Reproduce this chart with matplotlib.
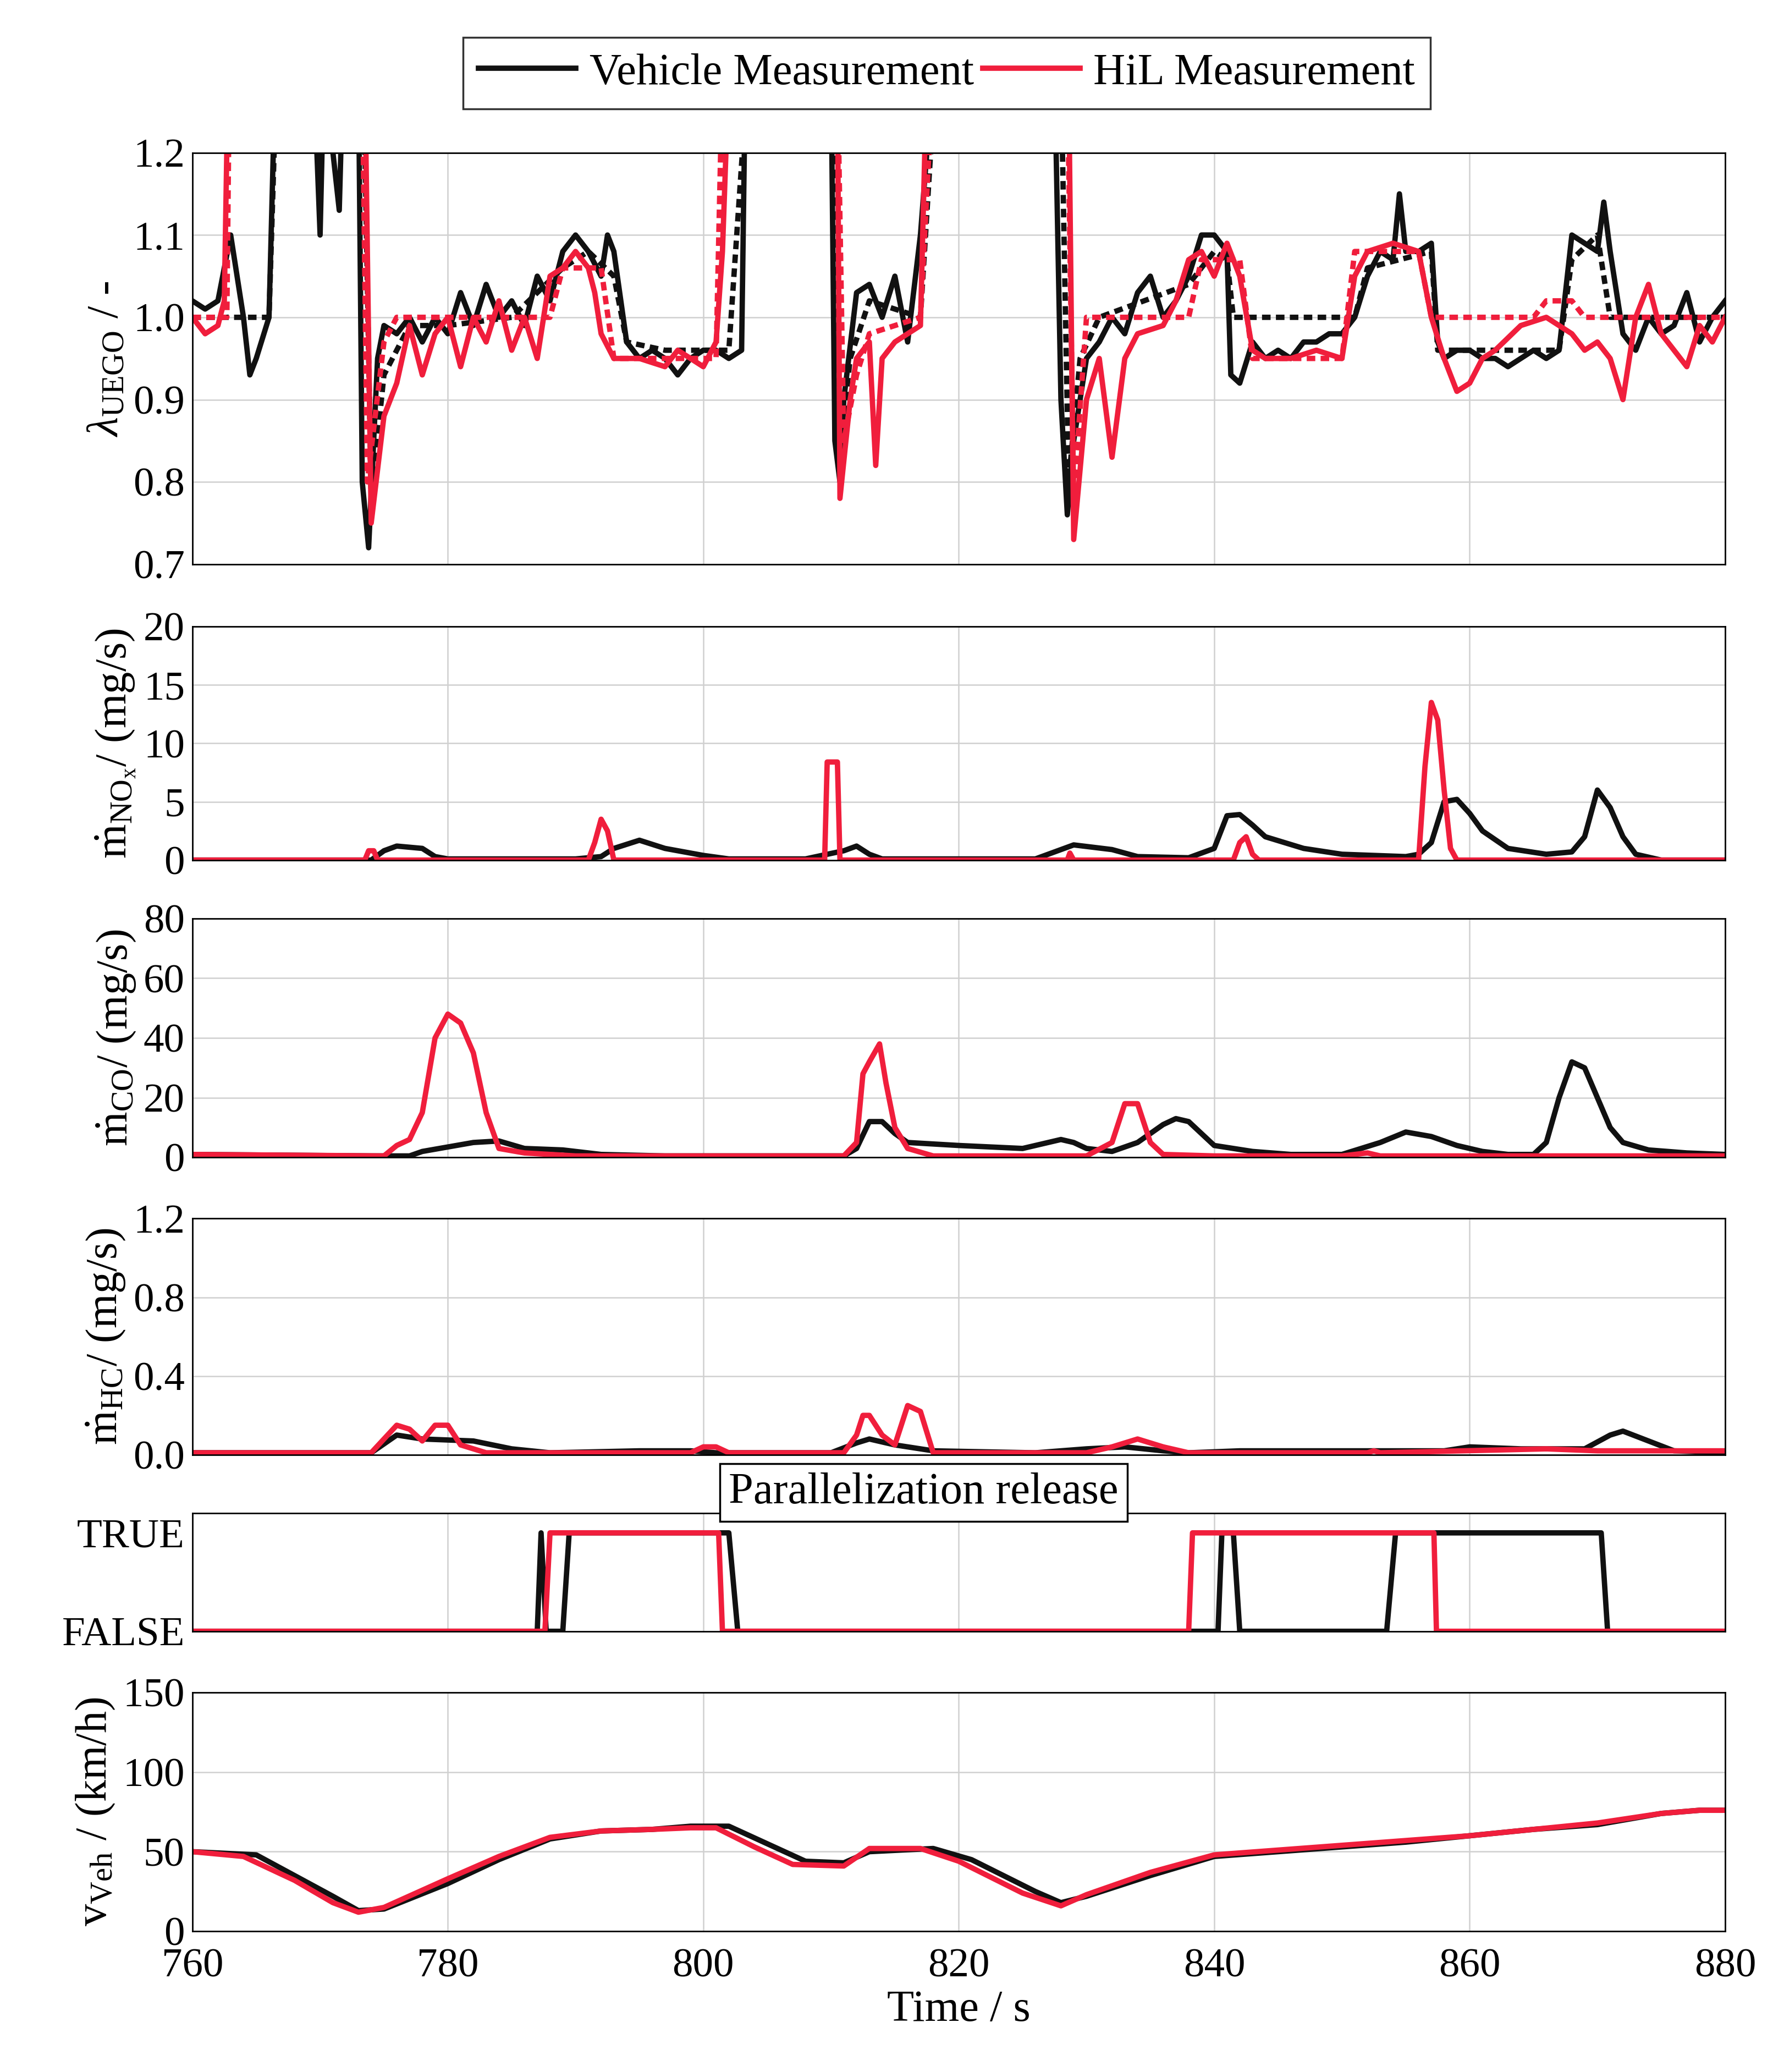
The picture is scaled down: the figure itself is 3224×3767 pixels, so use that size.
import numpy as np
import matplotlib
matplotlib.use("Agg")
import matplotlib.pyplot as plt
from matplotlib.lines import Line2D

plt.rcParams['font.family'] = ['Liberation Serif', 'DejaVu Serif']
plt.rcParams['mathtext.fontset'] = 'custom'
plt.rcParams['mathtext.rm'] = 'Liberation Serif'
plt.rcParams['mathtext.it'] = 'Liberation Serif:italic'

BLACK = '#111111'
RED = '#f01e3c'

# lambda
lam_veh_t = [760,761,762,763,764,764.5,765,766,766.5,769,769.5,770,770.3,771.5,771.8,773,773.3,773.8,774.5,775,776,777,778,779,780,781,782,783,784,785,786,787,788,789,790,791,792,792.5,793,794,795,796,797,798,799,800,801,802,803,803.3,810,810.3,810.7,811,812,813,814,815,816,817,818,827.5,828,828.5,829,830,831,832,833,834,835,836,837,838,839,840,841,841.3,842,843,844,845,846,847,848,849,850,851,852,853,854,854.5,855,856,857,857.5,858,859,860,861,862,863,864,865,866,867,868,869,870,870.5,871,872,873,874,875,876,877,878,879,880]
lam_veh = [1.02,1.01,1.02,1.1,1.0,0.93,0.95,1.0,1.3,1.3,1.3,1.1,1.3,1.13,1.3,1.3,0.8,0.72,0.95,0.99,0.98,1.0,0.97,1.0,0.98,1.03,0.99,1.04,1.0,1.02,0.99,1.05,1.02,1.08,1.1,1.08,1.05,1.1,1.08,0.97,0.95,0.96,0.95,0.93,0.95,0.96,0.96,0.95,0.96,1.3,1.3,0.85,0.8,0.9,1.03,1.04,1.0,1.05,0.97,1.1,1.3,1.3,0.9,0.76,0.85,0.95,0.97,1.0,0.98,1.03,1.05,1.0,1.02,1.05,1.1,1.1,1.08,0.93,0.92,0.97,0.95,0.96,0.95,0.97,0.97,0.98,0.98,1.0,1.05,1.08,1.07,1.15,1.08,1.08,1.09,0.97,0.95,0.96,0.96,0.95,0.95,0.94,0.95,0.96,0.95,0.96,1.1,1.09,1.08,1.14,1.08,0.98,0.96,1.0,0.98,0.99,1.03,0.97,1.0,1.02]
lam_veh_set_t = [760,766,766.6,773.4,774,775,777,780,785,789,791,793,794,797,802,803.5,810,810.6,811.5,813,817,818.2,828,828.6,829.5,831,838,840,841,841.5,851,852,857,857.5,867,868,870,871,880]
lam_veh_set = [1.0,1.0,1.3,1.3,0.78,0.93,0.99,0.99,1.0,1.06,1.08,1.05,0.97,0.96,0.96,1.3,1.3,0.82,0.95,1.02,1.0,1.3,1.3,0.8,0.95,1.0,1.04,1.08,1.07,1.0,1.0,1.06,1.08,0.96,0.96,1.07,1.1,1.0,1.0]
lam_hil_t = [760,761,762,762.5,762.8,763.2,773.5,774,775,776,777,778,779,780,781,782,783,784,785,786,787,788,789,790,791,791.5,792,793,795,797,798,799,800,801,801.5,802,810.5,810.7,811.5,812,813,813.5,814,815,816,817,817.5,828.6,829,830,831,832,833,834,836,837,838,839,840,841,842,843,844,846,848,850,851,852,854,856,857,858,859,860,861,862,864,866,868,869,870,871,872,873,874,875,876,877,878,879,880]
lam_hil = [1.0,0.98,0.99,1.02,1.3,1.3,1.3,0.75,0.88,0.92,0.99,0.93,0.98,1.0,0.94,1.0,0.97,1.02,0.96,1.0,0.95,1.05,1.06,1.08,1.06,1.03,0.98,0.95,0.95,0.94,0.96,0.95,0.94,0.97,1.08,1.3,1.3,0.78,0.9,0.95,0.97,0.82,0.95,0.97,0.98,0.99,1.3,1.3,0.73,0.9,0.95,0.83,0.95,0.98,0.99,1.02,1.07,1.08,1.05,1.09,1.05,0.96,0.95,0.95,0.96,0.95,1.05,1.08,1.09,1.08,1.0,0.95,0.91,0.92,0.95,0.96,0.99,1.0,0.98,0.96,0.97,0.95,0.9,1.0,1.04,0.98,0.96,0.94,0.99,0.97,1.0]
lam_hil_set_t = [760,762.7,762.9,773.3,773.7,775,776,788,789,792,793,801,801.5,810.5,811,812,813,817,818,828.5,829,830,838,839,842,843,850,851,856,857,865,866,868,869,880]
lam_hil_set = [1.0,1.0,1.3,1.3,0.8,0.97,1.0,1.0,1.06,1.06,0.95,0.95,1.3,1.3,0.85,0.93,0.98,1.0,1.3,1.3,0.78,1.0,1.0,1.07,1.07,0.95,0.95,1.08,1.08,1.0,1.0,1.02,1.02,1.0,1.0]

nox_veh_t = [760,774,775,776,778,779,780,790,792,793,795,797,800,802,808,811,812,813,814,826,829,832,834,838,840,841,842,843,844,847,850,855,856,857,858,859,860,861,863,866,868,869,870,871,872,873,875,880]
nox_veh = [0,0,0.8,1.2,1.0,0.3,0.1,0.1,0.3,1.0,1.7,1.0,0.4,0.1,0.1,0.8,1.2,0.5,0.1,0.1,1.3,0.9,0.3,0.2,1.0,3.8,3.9,3.0,2.0,1.0,0.5,0.3,0.5,1.5,5.0,5.2,4.0,2.5,1.0,0.5,0.7,2.0,6.0,4.5,2.0,0.5,0,0]
nox_hil_t = [760,773.5,773.8,774.2,774.5,791,791.5,792,792.5,793,809.5,809.7,810.5,810.7,828.5,828.7,829,841.5,842,842.5,843,843.5,856,856.5,857,857.5,858,858.5,859,880]
nox_hil = [0,0,0.8,0.8,0,0,1.5,3.5,2.5,0,0,8.4,8.4,0,0,0.6,0,0,1.5,2.0,0.5,0,0,8,13.5,12,6,1,0,0]

co_veh_t = [760,774,777,778,782,784,786,789,792,797,811,812,813,814,815,816,818,820,825,828,829,830,832,834,836,837,838,839,840,843,846,850,853,855,857,859,861,863,865,866,867,868,869,870,871,872,874,877,880]
co_veh = [1,0.5,0.5,2,5,5.5,3,2.5,1,0.5,0.5,3,12,12,8,5,4.5,4,3,6,5,3,2,5,11,13,12,8,4,2,1,1,5,8.5,7,4,2,1,1,5,20,32,30,20,10,5,2.5,1.5,1]
co_hil_t = [760,775,776,777,778,779,780,781,782,783,784,786,790,811,812,812.5,813,813.8,814.3,815,816,818,830,832,833,834,835,836,840,850,852,853,880]
co_hil = [1,0.5,4,6,15,40,48,45,35,15,3,1.5,0.5,0.5,5,28,32,38,25,10,3,0.5,0.5,5,18,18,5,1,0.5,0.5,1.5,0.5,0.5]

hc_veh_t = [760,774,776,778,782,785,788,795,799,801,810,812,813,815,818,826,830,833,836,838,842,850,858,860,864,869,871,872,874,876,880]
hc_veh = [0.01,0.01,0.1,0.08,0.07,0.03,0.01,0.02,0.02,0.01,0.01,0.06,0.08,0.05,0.02,0.01,0.03,0.04,0.02,0.01,0.02,0.02,0.02,0.04,0.03,0.03,0.1,0.12,0.07,0.02,0.01]
hc_hil_t = [760,774,776,777,778,779,780,781,783,799,800,801,802,811,812,812.5,813,814,815,816,817,818,830,832,834,836,838,852,852.5,853,866,870,880]
hc_hil = [0.01,0.01,0.15,0.13,0.07,0.15,0.15,0.05,0.01,0.01,0.04,0.04,0.01,0.01,0.1,0.2,0.2,0.1,0.05,0.25,0.22,0.01,0.01,0.04,0.08,0.04,0.01,0.01,0.02,0.01,0.03,0.02,0.02]

par_veh_t = [760,787,787.3,787.7,789,789.5,802,802.7,840.3,840.6,841.5,842,853.5,854.2,870.3,870.8,880]
par_veh = [0,0,1,0,0,1,1,0,0,1,1,0,0,1,1,0,0]
par_hil_t = [760,787.6,788,801.2,801.5,838,838.3,857.2,857.4,880]
par_hil = [0,0,1,1,0,0,1,1,0,0]
par_labels = ['FALSE', 'TRUE']

v_veh_t = [760,765,768,771,773,775,780,784,788,792,796,799,802,805,808,811,813,818,821,826,828,830,835,840,845,850,855,860,865,870,875,878,880]
v_veh = [50,48,35,22,13,14,30,45,58,63,64,66,66,55,44,43,50,52,45,25,18,22,35,47,50,53,56,60,64,67,74,76,76]
v_hil_t = [760,764,768,771,773,775,780,784,788,792,796,799,801,804,807,811,813,817,820,825,828,830,835,840,845,850,855,860,865,870,875,878,880]
v_hil = [50,47,32,18,12,15,33,47,59,63,64,65,65,53,42,41,52,52,44,24,16,23,37,48,51,54,57,60,64,68,74,76,76]

fig = plt.figure(figsize=(32.24, 37.67), dpi=100)
L, R = 0.1085, 0.973
rects = [(0.7277, 0.9263), (0.5849, 0.6976), (0.4414, 0.5567), (0.2979, 0.4119), (0.2127, 0.2697), (0.0679, 0.1832)]
axes = [fig.add_axes([L, b, R - L, t - b]) for b, t in rects]
LW = 7
TS = 54
LS = 58

data = [
    [(lam_veh_t, lam_veh, BLACK, '-'), (lam_veh_set_t, lam_veh_set, BLACK, '--'), (lam_hil_set_t, lam_hil_set, RED, '--'), (lam_hil_t, lam_hil, RED, '-')],
    [(nox_veh_t, nox_veh, BLACK, '-'), (nox_hil_t, nox_hil, RED, '-')],
    [(co_veh_t, co_veh, BLACK, '-'), (co_hil_t, co_hil, RED, '-')],
    [(hc_veh_t, hc_veh, BLACK, '-'), (hc_hil_t, hc_hil, RED, '-')],
    [(par_veh_t, par_veh, BLACK, '-'), (par_hil_t, par_hil, RED, '-')],
    [(v_veh_t, v_veh, BLACK, '-'), (v_hil_t, v_hil, RED, '-')],
]
ylims = [(0.7, 1.2), (0, 20), (0, 80), (0, 1.2), (0, 1.2), (0, 150)]
yticks = [[0.7, 0.8, 0.9, 1.0, 1.1, 1.2], [0, 5, 10, 15, 20], [0, 20, 40, 60, 80], [0.0, 0.4, 0.8, 1.2], [0, 1], [0, 50, 100, 150]]
ylabels = [r'$\lambda_{\mathrm{UEGO}}$ / -', r'$\dot{\mathrm{m}}_{\mathrm{NO_x}}$/ (mg/s)', r'$\dot{\mathrm{m}}_{\mathrm{CO}}$/ (mg/s)',
           r'$\dot{\mathrm{m}}_{\mathrm{HC}}$/ (mg/s)', '', r'$\mathrm{v}_{\mathrm{Veh}}$ / (km/h)']

for i, ax in enumerate(axes):
    for t, y, c, ls in data[i]:
        kw = {'linestyle': (0, (1.6, 1.0))} if ls == '--' else {}
        ax.plot(t, y, color=c, lw=LW, **kw)
    ax.set_xlim(760, 880)
    ax.set_ylim(*ylims[i])
    ax.set_yticks(yticks[i])
    ax.set_xticks([760, 780, 800, 820, 840, 860, 880])
    ax.grid(True, color='#d0d0d0', lw=1.8)
    ax.set_axisbelow(True)
    for s in ax.spines.values():
        s.set_linewidth(2)
    ax.tick_params(labelsize=TS, length=0, pad=10)
    ax.tick_params(axis='x', pad=22)
    if i < 5:
        ax.tick_params(labelbottom=False)
    if ylabels[i]:
        ax.set_ylabel(ylabels[i], fontsize=LS, labelpad=8)

axes[0].set_yticklabels(['%.1f' % v for v in yticks[0]])
axes[3].set_yticklabels(['%.1f' % v for v in yticks[3]])
axes[4].set_yticklabels(par_labels)
axes[4].grid(False)
axes[4].grid(True, axis='x', color='#d0d0d0', lw=1.8)
axes[5].set_xlabel('Time / s', fontsize=LS, labelpad=6)
fig.align_ylabels([axes[0], axes[1], axes[2], axes[3], axes[5]])

handles = [Line2D([], [], color=BLACK, lw=LW), Line2D([], [], color=RED, lw=LW)]
leg = fig.legend(handles, ['Vehicle Measurement', 'HiL Measurement'], loc='center', bbox_to_anchor=(0.534, 0.9647),
                 ncol=2, fontsize=LS, frameon=True, fancybox=False, handlelength=2.2, handletextpad=0.3,
                 columnspacing=0.2, borderpad=0.35)
leg.get_frame().set_edgecolor('black')
leg.get_frame().set_linewidth(2.5)

fig.text(0.521, 0.2797, 'Parallelization release', ha='center', va='center', fontsize=LS,
         bbox=dict(boxstyle='square,pad=0.2', fc='white', ec='black', lw=2.5))

fig.savefig('out.png', dpi=100)
